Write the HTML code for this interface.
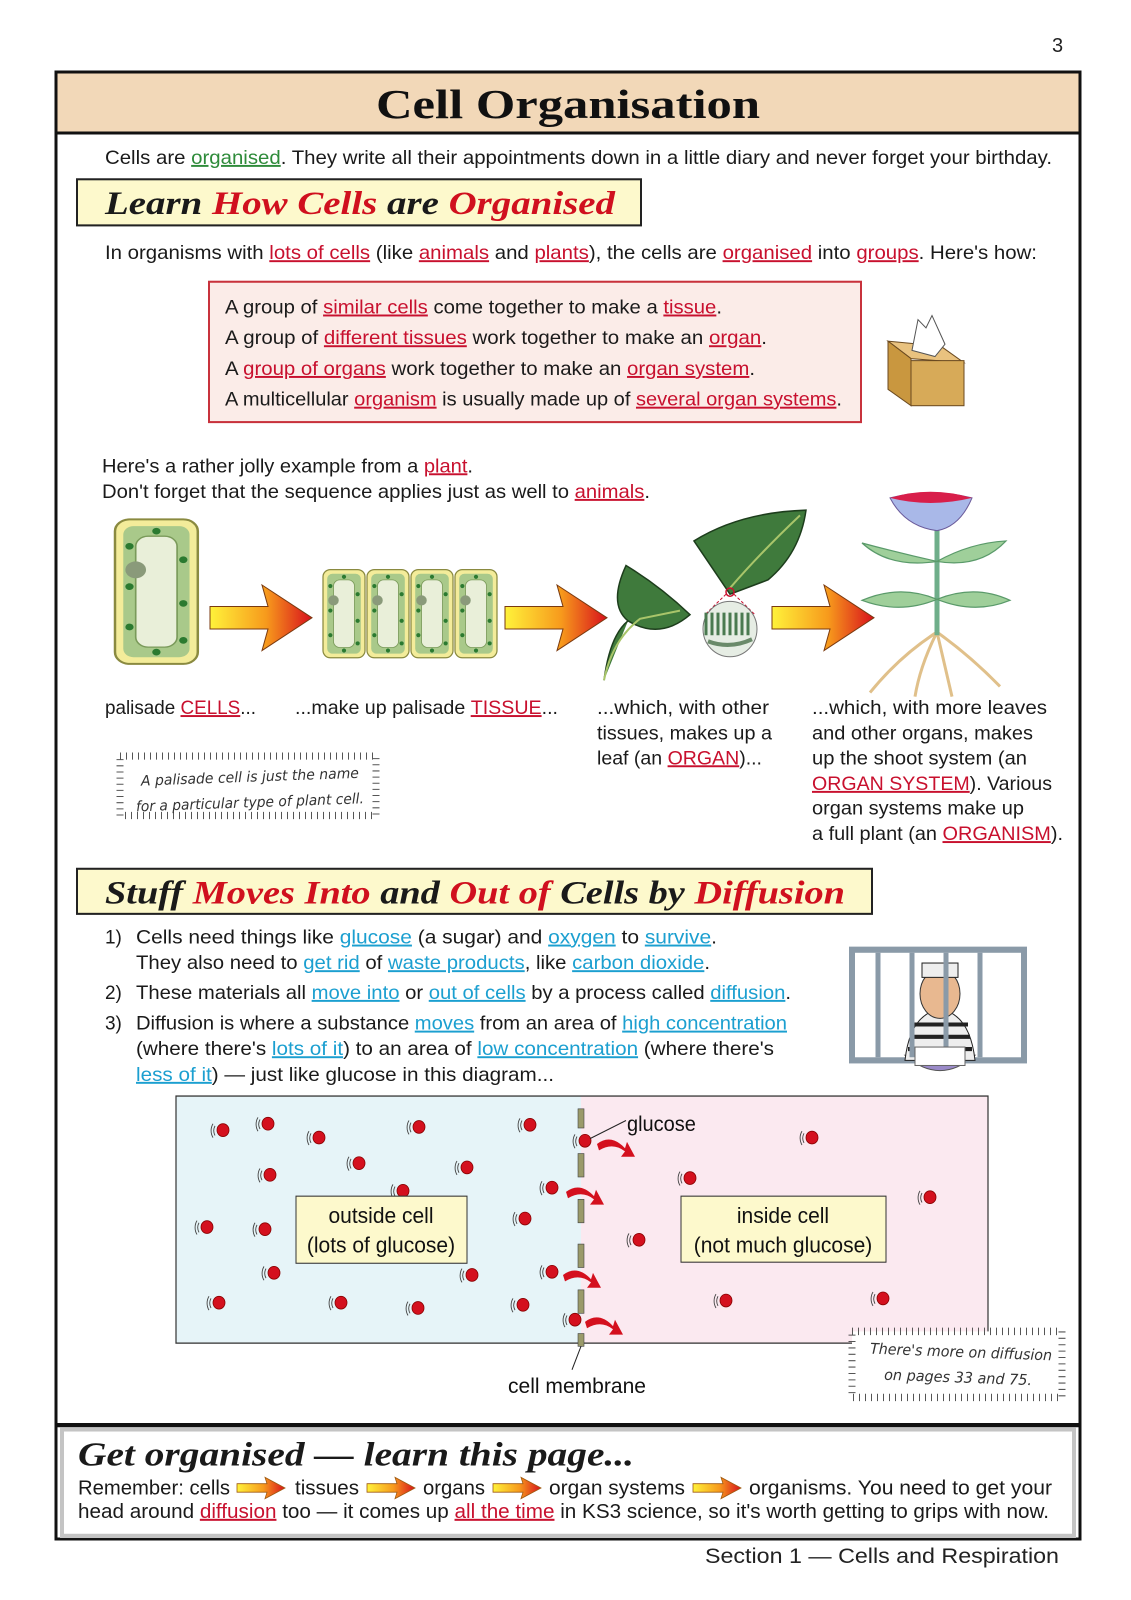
<!DOCTYPE html>
<html><head><meta charset="utf-8"><style>
html,body{margin:0;padding:0;background:#fff;}
svg{display:block;}
.b{font-family:"Liberation Sans",sans-serif;font-size:19px;fill:#1a1a1a;}
.r{fill:#c8102e;text-decoration:underline;}
.u{fill:#1b9fd0;text-decoration:underline;}
.g{fill:#2e8b3a;text-decoration:underline;}
.h{font-family:"Liberation Serif",serif;font-weight:bold;font-style:italic;font-size:32px;fill:#1a1a1a;}
.hr{fill:#d0101e;}
.note{font-family:"DejaVu Sans","Liberation Sans",sans-serif;font-size:14px;fill:#333;font-style:italic;}
</style></head><body>
<svg width="1131" height="1600" viewBox="0 0 1131 1600" xmlns="http://www.w3.org/2000/svg">
<defs>
<linearGradient id="ag" x1="0" x2="1" y1="0" y2="0"><stop offset="0" stop-color="#fff23a"/><stop offset="0.55" stop-color="#f79a1c"/><stop offset="1" stop-color="#d8101c"/></linearGradient>
<g id="arr"><polygon points="0,-11 58,-11 52,-32 102,0 52,32 58,11 0,11" fill="url(#ag)" stroke="#7a3a10" stroke-width="1"/></g>
<g id="sarr"><polygon points="0,-4 30,-4 28,-10 48,0 28,10 30,4 0,4" fill="url(#ag)" stroke="#a05a10" stroke-width="0.8"/></g>
<g id="dot"><circle r="6" fill="#d4101e" stroke="#800" stroke-width="0.8"/><path d="M-8,-4 A9,9 0 0 0 -8,5 M-10,-6 A12,12 0 0 0 -10,7" stroke="#444" fill="none" stroke-width="0.9"/></g>
<g id="carr"><path d="M0,0 Q14,-10 28,4 L30,-2 L38,12 L24,12 L28,7 Q16,-2 2,6 Z" fill="#d4101e"/></g>
<g id="cell"><rect x="0" y="0" width="40" height="86" rx="7" fill="#f3ec9a" stroke="#8a8a40" stroke-width="1.2"/><rect x="4" y="4" width="32" height="78" rx="5" fill="#a9c98a"/><rect x="10" y="10" width="20" height="66" rx="6" fill="#e9efd9" stroke="#7a9a5a" stroke-width="0.8"/>
<circle cx="7" cy="16" r="2" fill="#2b7a30"/><circle cx="33" cy="24" r="2" fill="#2b7a30"/><circle cx="7" cy="40" r="2" fill="#2b7a30"/><circle cx="33" cy="50" r="2" fill="#2b7a30"/><circle cx="7" cy="64" r="2" fill="#2b7a30"/><circle cx="33" cy="72" r="2" fill="#2b7a30"/><circle cx="20" cy="7" r="2" fill="#2b7a30"/><circle cx="20" cy="79" r="2" fill="#2b7a30"/><circle cx="10" cy="30" r="5" fill="#8a9a7a"/></g>
</defs>

<text x="1052" y="52" font-family="Liberation Sans" font-size="20" fill="#222">3</text>

<!-- main frame -->
<rect x="56" y="72" width="1024" height="1467" fill="#fff" stroke="#111" stroke-width="3"/>
<rect x="57.5" y="73.5" width="1021" height="59" fill="#f2d8b8"/>
<line x1="56" y1="133" x2="1080" y2="133" stroke="#111" stroke-width="3"/>

<g transform="scale(1,1.0245)">
<text x="376" y="115" font-family="Liberation Serif" font-weight="bold" font-size="40" fill="#111" textLength="384" lengthAdjust="spacingAndGlyphs">Cell Organisation</text>

<text class="b" x="105" y="160" textLength="947" lengthAdjust="spacingAndGlyphs">Cells are <tspan class="g">organised</tspan>.  They write all their appointments down in a little diary and never forget your birthday.</text>

<rect x="77" y="175" width="564" height="45" fill="#fdf9cc" stroke="#222" stroke-width="2"/>
<text class="h" x="105" y="209" textLength="510" lengthAdjust="spacingAndGlyphs">Learn <tspan class="hr">How Cells</tspan> are <tspan class="hr">Organised</tspan></text>

<text class="b" x="105" y="253" textLength="932" lengthAdjust="spacingAndGlyphs">In organisms with <tspan class="r">lots of cells</tspan> (like <tspan class="r">animals</tspan> and <tspan class="r">plants</tspan>), the cells are <tspan class="r">organised</tspan> into <tspan class="r">groups</tspan>.  Here's how:</text>

<rect x="209" y="275" width="652" height="137" fill="#fbece8" stroke="#c8323c" stroke-width="2"/>
<text class="b" x="225" y="306" textLength="497" lengthAdjust="spacingAndGlyphs">A group of <tspan class="r">similar cells</tspan> come together to make a <tspan class="r">tissue</tspan>.</text>
<text class="b" x="225" y="336" textLength="542" lengthAdjust="spacingAndGlyphs">A group of <tspan class="r">different tissues</tspan> work together to make an <tspan class="r">organ</tspan>.</text>
<text class="b" x="225" y="366" textLength="530" lengthAdjust="spacingAndGlyphs">A <tspan class="r">group of organs</tspan> work together to make an <tspan class="r">organ system</tspan>.</text>
<text class="b" x="225" y="396" textLength="617" lengthAdjust="spacingAndGlyphs">A multicellular <tspan class="r">organism</tspan> is usually made up of <tspan class="r">several organ systems</tspan>.</text>

<!-- tissue box -->
<polygon points="888,333 911,350 964,354 941,338" fill="#e9c27f" stroke="#6b4a20"/>
<polygon points="888,333 911,350 911,396 888,380" fill="#c9973f" stroke="#6b4a20"/>
<rect x="911" y="352" width="53" height="44" fill="#d7aa58" stroke="#6b4a20"/>
<path d="M912,342 L918,312 L926,320 L932,308 L945,336 L935,348 Z" fill="#fff" stroke="#555"/>

<text class="b" x="102" y="461" textLength="371" lengthAdjust="spacingAndGlyphs">Here's a rather jolly example from a <tspan class="r">plant</tspan>.</text>
<text class="b" x="102" y="486" textLength="548" lengthAdjust="spacingAndGlyphs">Don't forget that the sequence applies just as well to <tspan class="r">animals</tspan>.</text>

<g transform="translate(115,507) scale(2.07,1.64)"><use href="#cell"/></g>
<use href="#arr" transform="translate(210,603)"/>
<g transform="translate(323,556)"><use href="#cell" transform="scale(1.05,1)"/><use href="#cell" transform="translate(44,0) scale(1.05,1)"/><use href="#cell" transform="translate(88,0) scale(1.05,1)"/><use href="#cell" transform="translate(132,0) scale(1.05,1)"/></g>
<use href="#arr" transform="translate(505,603)"/>
<path d="M604,664 Q610,620 628,606 Q608,590 626,552 Q660,572 690,600 Q660,625 628,606" fill="#3f7a3c" stroke="#1d3d1c" stroke-width="1.5"/>
<path d="M604,664 Q612,625 640,604 L680,596" stroke="#a9c56a" fill="none" stroke-width="2"/>
<path d="M694,528 Q740,500 806,498 Q800,540 768,566 L730,580 Z" fill="#3f7a3c" stroke="#1d3d1c" stroke-width="1.5"/>
<path d="M730,574 Q760,540 800,503" stroke="#a9c56a" fill="none" stroke-width="2"/>
<circle cx="730" cy="578" r="4" fill="none" stroke="#c8102e" stroke-width="1.5"/>
<path d="M726,580 L705,600 M734,580 L755,600" stroke="#c8102e" stroke-dasharray="3,2"/>
<circle cx="730" cy="614" r="27" fill="#e6ede4" stroke="#777"/>
<path d="M706,598 L706,620 M712,598 L712,620 M718,598 L718,620 M724,598 L724,620 M730,598 L730,620 M736,598 L736,620 M742,598 L742,620 M748,598 L748,620" stroke="#4a7a50" stroke-width="3"/>
<path d="M708,626 Q730,634 752,624" stroke="#6a8a6a" stroke-width="4" fill="none"/>
<use href="#arr" transform="translate(772,603)"/>
<path d="M937,617 Q900,640 870,676 M937,617 Q920,650 915,680 M937,617 Q945,650 952,680 M937,617 Q970,640 1000,670" stroke="#e0c08a" stroke-width="3" fill="none"/>
<line x1="937" y1="517" x2="937" y2="620" stroke="#6fae8a" stroke-width="5"/>
<path d="M937,548 Q900,540 862,530 Q890,555 937,548 Z M937,548 Q970,530 1006,528 Q980,555 937,548 Z M937,585 Q900,570 862,586 Q900,600 937,585 Z M937,585 Q975,570 1010,586 Q975,600 937,585 Z" fill="#9fcf9a" stroke="#5a9a6a" stroke-width="1.2"/>
<path d="M890,486 Q930,476 972,486 Q960,514 937,518 Q905,514 890,486 Z" fill="#a9b8e8" stroke="#6a5a9a"/>
<path d="M890,486 Q930,474 972,486 Q930,496 890,486 Z" fill="#d81e4a"/>

<text class="b" x="105" y="697" textLength="151" lengthAdjust="spacingAndGlyphs">palisade <tspan class="r">CELLS</tspan>...</text>
<text class="b" x="295" y="697" textLength="263" lengthAdjust="spacingAndGlyphs">...make up palisade <tspan class="r">TISSUE</tspan>...</text>
<text class="b" x="597" y="697" textLength="172" lengthAdjust="spacingAndGlyphs">...which, with other</text>
<text class="b" x="597" y="722" textLength="175" lengthAdjust="spacingAndGlyphs">tissues, makes up a</text>
<text class="b" x="597" y="746" textLength="165" lengthAdjust="spacingAndGlyphs">leaf (an <tspan class="r">ORGAN</tspan>)...</text>
<text class="b" x="812" y="697" textLength="235" lengthAdjust="spacingAndGlyphs">...which, with more leaves</text>
<text class="b" x="812" y="722" textLength="221" lengthAdjust="spacingAndGlyphs">and other organs, makes</text>
<text class="b" x="812" y="746" textLength="215" lengthAdjust="spacingAndGlyphs">up the shoot system (an</text>
<text class="b" x="812" y="771" textLength="240" lengthAdjust="spacingAndGlyphs"><tspan class="r">ORGAN SYSTEM</tspan>).  Various</text>
<text class="b" x="812" y="795" textLength="212" lengthAdjust="spacingAndGlyphs">organ systems make up</text>
<text class="b" x="812" y="820" textLength="251" lengthAdjust="spacingAndGlyphs">a full plant (an <tspan class="r">ORGANISM</tspan>).</text>

<rect x="120" y="738" width="256" height="58" fill="none" stroke="#555" stroke-dasharray="1,5" stroke-width="7"/>
<text class="note" x="141" y="763" textLength="218" lengthAdjust="spacingAndGlyphs" transform="rotate(-2 250 760)">A palisade cell is just the name</text>
<text class="note" x="136" y="788" textLength="228" lengthAdjust="spacingAndGlyphs" transform="rotate(-2 250 785)">for a particular type of plant cell.</text>

<rect x="77" y="848" width="795" height="44" fill="#fdf9cc" stroke="#222" stroke-width="2"/>
<text class="h" x="105" y="882" textLength="740" lengthAdjust="spacingAndGlyphs">Stuff <tspan class="hr">Moves Into</tspan> and <tspan class="hr">Out of</tspan> Cells by <tspan class="hr">Diffusion</tspan></text>

<text class="b" x="105" y="921">1)</text>
<text class="b" x="136" y="921" textLength="581" lengthAdjust="spacingAndGlyphs">Cells need things like <tspan class="u">glucose</tspan> (a sugar) and <tspan class="u">oxygen</tspan> to <tspan class="u">survive</tspan>.</text>
<text class="b" x="136" y="946" textLength="574" lengthAdjust="spacingAndGlyphs">They also need to <tspan class="u">get rid</tspan> of <tspan class="u">waste products</tspan>, like <tspan class="u">carbon dioxide</tspan>.</text>
<text class="b" x="105" y="975">2)</text>
<text class="b" x="136" y="975" textLength="655" lengthAdjust="spacingAndGlyphs">These materials all <tspan class="u">move into</tspan> or <tspan class="u">out of cells</tspan> by a process called <tspan class="u">diffusion</tspan>.</text>
<text class="b" x="105" y="1005">3)</text>
<text class="b" x="136" y="1005" textLength="651" lengthAdjust="spacingAndGlyphs">Diffusion is where a substance <tspan class="u">moves</tspan> from an area of <tspan class="u">high concentration</tspan></text>
<text class="b" x="136" y="1030" textLength="638" lengthAdjust="spacingAndGlyphs">(where there's <tspan class="u">lots of it</tspan>) to an area of <tspan class="u">low concentration</tspan> (where there's</text>
<text class="b" x="136" y="1055" textLength="418" lengthAdjust="spacingAndGlyphs"><tspan class="u">less of it</tspan>) — just like glucose in this diagram...</text>

<path d="M905,1030 Q940,1060 975,1030 Z" fill="#9a8ac8" stroke="#555"/>
<rect x="852" y="927" width="172" height="108" fill="none" stroke="#8a9aa8" stroke-width="6"/>
<path d="M905,1035 Q910,990 940,985 Q970,990 975,1035 Z" fill="#eee" stroke="#222"/>
<path d="M912,1000 L968,1000 M910,1012 L970,1012 M908,1024 L972,1024" stroke="#222" stroke-width="4"/>
<ellipse cx="940" cy="970" rx="20" ry="24" fill="#e8b890" stroke="#333"/>
<rect x="922" y="940" width="36" height="14" fill="#eee" stroke="#222"/>
<line x1="878" y1="930" x2="878" y2="1032" stroke="#8a9aa8" stroke-width="5"/><line x1="912" y1="930" x2="912" y2="1032" stroke="#8a9aa8" stroke-width="5"/><line x1="946" y1="930" x2="946" y2="1032" stroke="#8a9aa8" stroke-width="5"/><line x1="980" y1="930" x2="980" y2="1032" stroke="#8a9aa8" stroke-width="5"/>
<rect x="915" y="1022" width="50" height="18" fill="#fff" stroke="#666"/>
</g>

<g transform="translate(0,-68) scale(1,1.065)">
<rect x="176" y="1093" width="405" height="232" fill="#e6f4f8"/>
<rect x="581" y="1093" width="407" height="232" fill="#fbe9f0"/>
<rect x="176" y="1093" width="812" height="232" fill="none" stroke="#333" stroke-width="1.2"/>
<g fill="#9a9a6a" stroke="#444" stroke-width="0.6">
<rect x="578" y="1105" width="6" height="18"/><rect x="578" y="1147" width="6" height="22"/><rect x="578" y="1190" width="6" height="22"/><rect x="578" y="1232" width="6" height="22"/><rect x="578" y="1275" width="6" height="22"/><rect x="578" y="1316" width="6" height="12"/></g>
<g>
<use href="#dot" x="223" y="1125"/><use href="#dot" x="268" y="1119"/><use href="#dot" x="319" y="1132"/><use href="#dot" x="419" y="1122"/><use href="#dot" x="530" y="1120"/><use href="#dot" x="359" y="1156"/><use href="#dot" x="467" y="1160"/><use href="#dot" x="270" y="1167"/><use href="#dot" x="403" y="1182"/><use href="#dot" x="552" y="1179"/><use href="#dot" x="207" y="1216"/><use href="#dot" x="265" y="1218"/><use href="#dot" x="525" y="1208"/><use href="#dot" x="274" y="1259"/><use href="#dot" x="472" y="1261"/><use href="#dot" x="552" y="1258"/><use href="#dot" x="219" y="1287"/><use href="#dot" x="341" y="1287"/><use href="#dot" x="418" y="1292"/><use href="#dot" x="523" y="1289"/><use href="#dot" x="575" y="1303"/><use href="#dot" x="585" y="1135"/>
<use href="#dot" x="812" y="1132"/><use href="#dot" x="690" y="1170"/><use href="#dot" x="930" y="1188"/><use href="#dot" x="639" y="1228"/><use href="#dot" x="726" y="1285"/><use href="#dot" x="883" y="1283"/>
</g>
<use href="#carr" x="597" y="1138"/><use href="#carr" x="566" y="1183"/><use href="#carr" x="563" y="1261"/><use href="#carr" x="585" y="1305"/>
<rect x="296" y="1187" width="171" height="63" fill="#fdf9cc" stroke="#333"/>
<text x="381" y="1212" text-anchor="middle" font-family="Liberation Sans" font-size="21" fill="#111">outside cell</text>
<text x="381" y="1240" text-anchor="middle" font-family="Liberation Sans" font-size="21" fill="#111">(lots of glucose)</text>
<rect x="681" y="1187" width="205" height="62" fill="#fdf9cc" stroke="#333"/>
<text x="783" y="1212" text-anchor="middle" font-family="Liberation Sans" font-size="21" fill="#111">inside cell</text>
<text x="783" y="1240" text-anchor="middle" font-family="Liberation Sans" font-size="21" fill="#111">(not much glucose)</text>
<line x1="590" y1="1133" x2="626" y2="1116" stroke="#222"/>
<text x="627" y="1126" font-family="Liberation Sans" font-size="20" fill="#111">glucose</text>
<line x1="581" y1="1328" x2="572" y2="1350" stroke="#222"/>
<text x="508" y="1372" font-family="Liberation Sans" font-size="20" fill="#111" textLength="138" lengthAdjust="spacingAndGlyphs">cell membrane</text>

<rect x="852" y="1314" width="210" height="62" fill="#fff" stroke="#555" stroke-dasharray="1,5" stroke-width="7"/>
<text class="note" x="870" y="1338" textLength="182" lengthAdjust="spacingAndGlyphs" transform="rotate(2 960 1336)">There's more on diffusion</text>
<text class="note" x="884" y="1362" textLength="148" lengthAdjust="spacingAndGlyphs" transform="rotate(2 960 1360)">on pages 33 and 75.</text>

<line x1="56" y1="1402" x2="1080" y2="1402" stroke="#111" stroke-width="4"/>
<rect x="62" y="1406" width="1012" height="100" fill="#fff" stroke="#c4c4c4" stroke-width="4"/>
<text class="h" x="78" y="1440" textLength="556" lengthAdjust="spacingAndGlyphs">Get organised — learn this page...</text>
<text class="b" x="78" y="1467" textLength="152" lengthAdjust="spacingAndGlyphs">Remember: cells</text>
<use href="#sarr" transform="translate(237,1461)"/>
<text class="b" x="295" y="1467" textLength="64" lengthAdjust="spacingAndGlyphs">tissues</text>
<use href="#sarr" transform="translate(367,1461)"/>
<text class="b" x="423" y="1467" textLength="62" lengthAdjust="spacingAndGlyphs">organs</text>
<use href="#sarr" transform="translate(493,1461)"/>
<text class="b" x="549" y="1467" textLength="136" lengthAdjust="spacingAndGlyphs">organ systems</text>
<use href="#sarr" transform="translate(693,1461)"/>
<text class="b" x="749" y="1467" textLength="303" lengthAdjust="spacingAndGlyphs">organisms.  You need to get your</text>
<text class="b" x="78" y="1489" textLength="971" lengthAdjust="spacingAndGlyphs">head around <tspan class="r">diffusion</tspan> too — it comes up <tspan class="r">all the time</tspan> in KS3 science, so it's worth getting to grips with now.</text>
</g>

<text x="705" y="1563" font-family="Liberation Sans" font-size="21" fill="#222" textLength="354" lengthAdjust="spacingAndGlyphs">Section 1 — Cells and Respiration</text>
</svg>
</body></html>
